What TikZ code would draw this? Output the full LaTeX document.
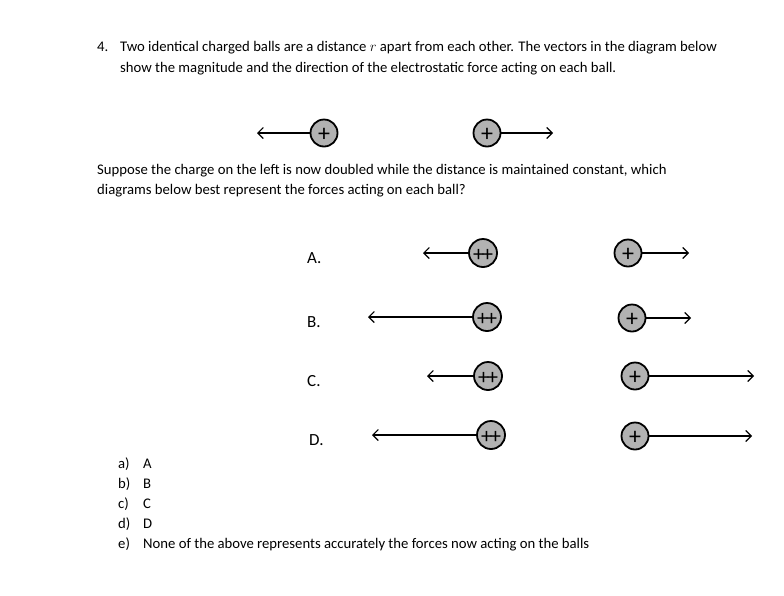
\documentclass[tikz,border=0pt]{standalone}
\usepackage{fontspec}
\setmainfont{Carlito}
\usetikzlibrary{arrows.meta}
\begin{document}
\begin{tikzpicture}[x=1pt,y=-1pt,
  txt/.style={anchor=base west,inner sep=0pt,font=\fontsize{14.7}{17}\selectfont},
  lab/.style={anchor=base west,inner sep=0pt,font=\fontsize{17}{20}\selectfont},
  ball/.style={circle,draw=black,line width=1.8pt,fill=black!30,minimum size=27pt,inner sep=0pt,text height=16pt,text depth=0pt,font=\fontsize{24}{24}\selectfont},
  dball/.style={ball,minimum size=28pt,font=\fontsize{22}{22}\selectfont},
  force/.style={line width=1.1pt,-{Straight Barb[length=5.5pt,width=11pt,line width=1.1pt]}}]
\useasboundingbox (0,0) rectangle (784,595);
\node[txt] (n4) at (97,51) {4.};
\node[txt] (q1) at (120,51) {Two identical charged balls are a distance $r$ apart from each other. The vectors in the diagram below};
\node[txt] (q2) at (120,72) {show the magnitude and the direction of the electrostatic force acting on each ball.};
% top row
\node[ball] (tl) at (324,133) {+};
\node[ball] (tr) at (487,133) {+};
\coordinate (tla) at (257,133);
\coordinate (tra) at (553,133);
\draw[force] (tl) -- (tla);
\draw[force] (tr) -- (tra);
\node[txt] (s1) at (97,174) {Suppose the charge on the left is now doubled while the distance is maintained constant, which};
\node[txt] (s2) at (97,194) {diagrams below best represent the forces acting on each ball?};
% A
\node[lab] (lA) at (307,263) {A.};
\node[dball] (A1) at (483,253) {+\kern-2pt+};
\node[ball] (A2) at (628,253) {+};
\coordinate (A1a) at (423,253);
\coordinate (A2a) at (689,253);
\draw[force] (A1) -- (A1a);
\draw[force] (A2) -- (A2a);
% B
\node[lab] (lB) at (307,327) {B.};
\node[dball] (B1) at (487,317) {+\kern-2pt+};
\node[ball] (B2) at (632,318) {+};
\coordinate (B1a) at (368,317);
\coordinate (B2a) at (691,318);
\draw[force] (B1) -- (B1a);
\draw[force] (B2) -- (B2a);
% C
\node[lab] (lC) at (307,386) {C.};
\node[dball] (C1) at (488,376) {+\kern-2pt+};
\node[ball] (C2) at (635,376) {+};
\coordinate (C1a) at (427,376);
\coordinate (C2a) at (754,376);
\draw[force] (C1) -- (C1a);
\draw[force] (C2) -- (C2a);
% D
\node[lab] (lD) at (309,445) {D.};
\node[dball] (D1) at (491,435) {+\kern-2pt+};
\node[ball] (D2) at (635,436) {+};
\coordinate (D1a) at (372,435);
\coordinate (D2a) at (752,436);
\draw[force] (D1) -- (D1a);
\draw[force] (D2) -- (D2a);
% answers
\node[txt] (aa) at (118,468) {a)};
\node[txt] (ab) at (118,488) {b)};
\node[txt] (ac) at (118,508) {c)};
\node[txt] (ad) at (118,528) {d)};
\node[txt] (ae) at (118,548) {e)};
\node[txt] (ta) at (143,468) {A};
\node[txt] (tb) at (143,488) {B};
\node[txt] (tc) at (143,508) {C};
\node[txt] (td) at (143,528) {D};
\node[txt] (te) at (143,548) {None of the above represents accurately the forces now acting on the balls};
\end{tikzpicture}
\end{document}
